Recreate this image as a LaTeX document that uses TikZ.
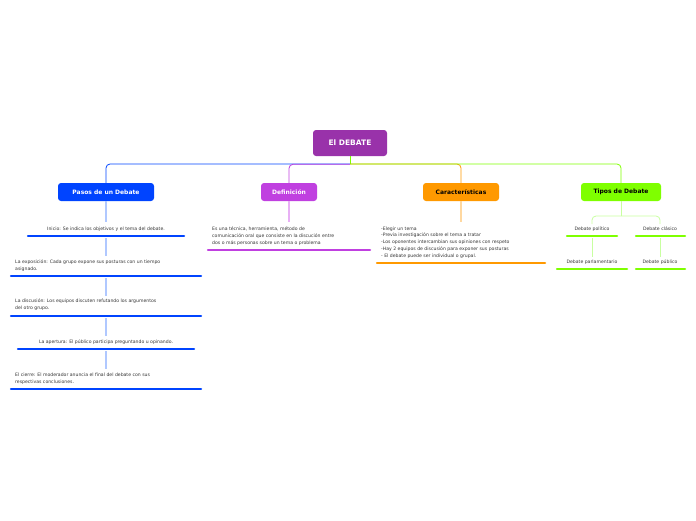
\documentclass[tikz,border=0pt]{standalone}
\usepackage{fontspec}
\setmainfont{DejaVu Sans}
\definecolor{cRoot}{HTML}{9932AA}
\definecolor{cBlue}{HTML}{0044FF}
\definecolor{cLBlue}{HTML}{B0C8FF}
\definecolor{cPurp}{HTML}{C040E0}
\definecolor{cLPurp}{HTML}{E8B0F5}
\definecolor{cOr}{HTML}{FF9900}
\definecolor{cLOr}{HTML}{FFD8A0}
\definecolor{cGr}{HTML}{7FFF00}
\definecolor{cLGr}{HTML}{C8FFA0}
\definecolor{cTxt}{HTML}{333333}
\begin{document}
\begin{tikzpicture}[x=1pt,y=-1pt,
  top/.style={rounded corners=3pt,minimum height=18pt,font=\bfseries\fontsize{6}{7}\selectfont,text=white,inner sep=0pt},
  leaf/.style={font=\fontsize{4.6}{6.8}\selectfont,text=cTxt,align=left,inner sep=0pt},
  bar/.style={line width=2.5pt,line cap=round}]
\useasboundingbox (0,0) rectangle (696,520);
\node[top,fill=cRoot,minimum width=74pt,minimum height=26pt,font=\bfseries\fontsize{7.5}{9}\selectfont] (root) at (350,143) {El DEBATE};
\node[top,fill=cBlue,minimum width=96pt] (pasos) at (106,192) {Pasos de un Debate};
\node[top,fill=cPurp,minimum width=56pt] (def) at (289,192) {Definición};
\node[top,fill=cOr,minimum width=76pt,text=black] (car) at (461,192) {Características};
\node[top,fill=cGr,minimum width=80pt,text=black] (tip) at (621,192) {Tipos de Debate};
% connectors
\draw[cGr,line width=0.8pt] (root.south) -- (350,164);
\draw[cBlue,line width=0.8pt,rounded corners=4pt] (350,164) -- (106,164) -- (pasos.north);
\draw[cPurp,line width=0.8pt,rounded corners=4pt] (350,164.3) -- (289,164.3) -- (def.north);
\draw[cOr,line width=0.8pt,rounded corners=4pt] (350,164) -- (461,164) -- (car.north);
\draw[cGr,line width=0.8pt,rounded corners=4pt] (350,164) -- (621,164) -- (tip.north);
% pasos children
\node[leaf,align=center] (p1) at (106,229) {Inicio: Se indica los objetivos y el tema del debate.};
\node[leaf,anchor=west] (p2) at (15,265.5) {La exposición: Cada grupo expone sus posturas con un tiempo\\asignado.};
\node[leaf,anchor=west] (p3) at (15,305) {La discusión: Los equipos discuten refutando los argumentos\\del otro grupo.};
\node[leaf,align=center] (p4) at (106,342) {La apertura: El público participa preguntando u opinando.};
\node[leaf,anchor=west] (p5) at (15,378.5) {El cierre: El moderador anuncia el final del debate con sus\\respectivas conclusiones.};
\coordinate (b1a) at (28,236); \coordinate (b1b) at (184,236);
\coordinate (b2a) at (11,276); \coordinate (b2b) at (201,276);
\coordinate (b3a) at (11,316); \coordinate (b3b) at (201,316);
\coordinate (b4a) at (18,349); \coordinate (b4b) at (194,349);
\coordinate (b5a) at (11,389); \coordinate (b5b) at (201,389);
\foreach \a/\b in {b1a/b1b,b2a/b2b,b3a/b3b,b4a/b4b,b5a/b5b} \draw[cBlue,bar] (\a) -- (\b);
\draw[cLBlue,line width=1.2pt] (pasos.south) -- (106,222);
\draw[cLBlue,line width=1.2pt] (106,238) -- (106,256);
\draw[cLBlue,line width=1.2pt] (106,278) -- (106,296);
\draw[cLBlue,line width=1.2pt] (106,318) -- (106,336);
\draw[cLBlue,line width=1.2pt] (106,351) -- (106,369);
% definicion
\node[leaf,anchor=west] (d1) at (212,236) {Es una técnica, herramienta, método de\\comunicación oral que consiste en la discución entre\\dos o más personas sobre un tema o problema};
\draw[cLPurp,line width=1.2pt] (def.south) -- (289,222);
\coordinate (da) at (208,250); \coordinate (db) at (370,250);
\draw[cPurp,bar] (da) -- (db);
% caracteristicas
\node[leaf,anchor=west] (c1) at (381,242.5) {-Elegir un tema\\-Previa investigación sobre el tema a tratar\\-Los oponentes intercambian sus opiniones con respeto\\-Hay 2 equipos de discusión para exponer sus posturas\\- El debate puede ser individual o grupal.};
\draw[cLOr,line width=1.2pt] (car.south) -- (461,222);
\coordinate (ca) at (377,263); \coordinate (cb) at (545,263);
\draw[cOr,bar] (ca) -- (cb);
% tipos
\draw[cLGr,line width=0.8pt] (tip.south) -- (621,216);
\draw[cLGr,line width=0.8pt,rounded corners=4pt] (621,216) -- (592,216) -- (592,224);
\draw[cLGr,line width=0.8pt,rounded corners=4pt] (621,216) -- (660,216) -- (660,224);
\node[leaf] (t1) at (592,229) {Debate político};
\node[leaf] (t2) at (660,229) {Debate clásico};
\node[leaf] (t3) at (592,262) {Debate parlamentario};
\node[leaf] (t4) at (660,262) {Debate público};
\draw[cGr,bar] (567,236) -- (617,236);
\draw[cGr,bar] (636,236) -- (685,236);
\draw[cGr,bar] (557,269) -- (627,269);
\draw[cGr,bar] (636,269) -- (685,269);
\draw[cLGr,line width=0.8pt] (592,238) -- (592,257);
\draw[cLGr,line width=0.8pt] (660,238) -- (660,257);
\end{tikzpicture}
\end{document}
